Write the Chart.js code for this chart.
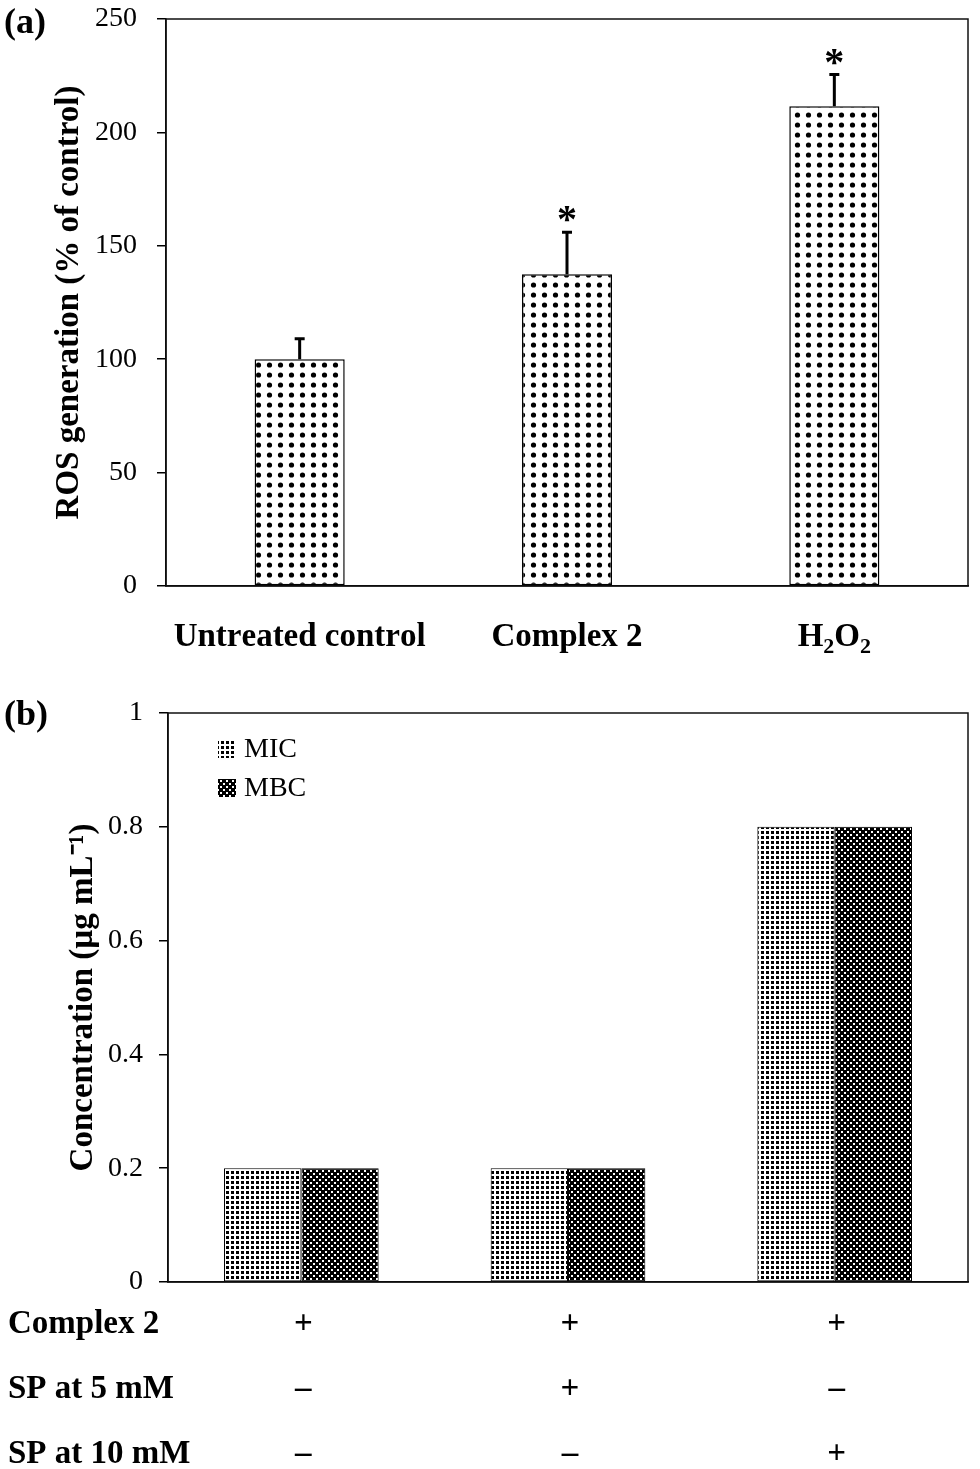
<!DOCTYPE html>
<html>
<head>
<meta charset="utf-8">
<title>ROS generation and MIC/MBC</title>
<script src="https://cdn.jsdelivr.net/npm/chart.js@4.4.1/dist/chart.umd.min.js"></script>
<style>
    body { margin: 0; background: #fff; width: 980px; height: 1469px; overflow: hidden; position: relative; }
    .panel { position: absolute; left: 0; width: 980px; }
    #panelA { top: 0; height: 680px; }
    #panelB { top: 680px; height: 789px; }
</style>
</head>
<body>
<div class="panel" id="panelA"><canvas id="rosChart"></canvas></div>
<div class="panel" id="panelB"><canvas id="concChart"></canvas></div>
<script>
// Panel (a) data
const rosLabels = ['Untreated control', 'Complex 2', 'H2O2'];
const rosValues = [100, 137.5, 211.5];
const rosErrors = [9, 18.5, 14];
const rosMarks = ['', '*', '*'];

// Panel (b) data
const concGroups = ['Complex 2', 'Complex 2 + SP 5 mM', 'Complex 2 + SP 10 mM'];
const micValues = [0.2, 0.2, 0.8];
const mbcValues = [0.2, 0.2, 0.8];
const treatmentRows = ['Complex 2', 'SP at 5 mM', 'SP at 10 mM'];
const treatmentSigns = [
    ['+', '+', '+'],
    ['\u2013', '+', '\u2013'],
    ['\u2013', '\u2013', '+']
];

const serif = "'Liberation Serif', 'Times New Roman', serif";
Chart.defaults.font.family = serif;
Chart.defaults.color = '#000';

// Fill patterns
function makePattern(w, h, paint) {
    const tile = document.createElement('canvas');
    tile.width = w;
    tile.height = h;
    paint(tile.getContext('2d'), w, h);
    return document.createElement('canvas').getContext('2d').createPattern(tile, 'repeat');
}

const dotPattern = makePattern(11, 10, (g, w, h) => {
    g.fillStyle = '#fff';
    g.fillRect(0, 0, w, h);
    g.fillStyle = '#000';
    g.beginPath();
    g.arc(5.5, 5, 2.6, 0, Math.PI * 2);
    g.fill();
});

const micPattern = makePattern(5, 5, (g, w, h) => {
    g.fillStyle = '#fff';
    g.fillRect(0, 0, w, h);
    g.fillStyle = '#000';
    g.fillRect(1, 1, 3, 3);
});

const mbcPattern = makePattern(6, 6, (g, w, h) => {
    g.fillStyle = '#000';
    g.fillRect(0, 0, w, h);
    g.fillStyle = '#fff';
    g.fillRect(1, 1, 2, 2);
    g.fillRect(4, 4, 2, 2);
});

// Draw a label, turning digits that follow a letter into subscripts (H2O2)
function drawFormula(ctx, text, cx, cy, size) {
    const parts = [];
    for (let i = 0; i < text.length; i++) {
        const ch = text[i];
        const sub = /\d/.test(ch) && i > 0 && /[A-Za-z]/.test(text[i - 1]);
        parts.push({ ch, sub });
    }
    const fontFor = p => `bold ${p.sub ? Math.round(size * 0.66) : size}px ${serif}`;
    let total = 0;
    parts.forEach(p => { ctx.font = fontFor(p); p.w = ctx.measureText(p.ch).width; total += p.w; });
    let px = cx - total / 2;
    ctx.textAlign = 'left';
    ctx.textBaseline = 'alphabetic';
    parts.forEach(p => {
        ctx.font = fontFor(p);
        ctx.fillText(p.ch, px, cy + (p.sub ? size * 0.22 : 0));
        px += p.w;
    });
}

function drawFrame(chart) {
    const { ctx, chartArea: a } = chart;
    ctx.save();
    ctx.strokeStyle = '#111';
    ctx.lineWidth = 1.5;
    ctx.strokeRect(a.left, a.top, a.right - a.left, a.bottom - a.top);
    ctx.restore();
}

const yAxisBase = {
    grid: { display: true, drawOnChartArea: false, drawTicks: true, tickLength: 9, color: '#000', lineWidth: 1.5 },
    border: { display: true, color: '#000', width: 1.5 }
};

// keep the plot box where the layout padding puts it
function fixAxisWidth(width) {
    return scale => {
        scale.width = width;
        scale.paddingTop = 0;
        scale.paddingBottom = 0;
    };
}

// Panel (a): error bars, asterisks, category labels
const rosExtras = {
    id: 'rosExtras',
    afterDatasetsDraw(chart) {
        const { ctx, scales: { y } } = chart;
        const bars = chart.getDatasetMeta(0).data;
        ctx.save();
        ctx.strokeStyle = '#000';
        ctx.fillStyle = '#000';
        ctx.lineWidth = 3;
        rosValues.forEach((v, i) => {
            const px = bars[i].x;
            const base = y.getPixelForValue(v);
            const top = y.getPixelForValue(v + rosErrors[i]);
            ctx.beginPath();
            ctx.moveTo(px, base);
            ctx.lineTo(px, top);
            ctx.moveTo(px - 5, top);
            ctx.lineTo(px + 5, top);
            ctx.stroke();
            if (rosMarks[i]) {
                ctx.font = `bold 40px ${serif}`;
                ctx.textAlign = 'center';
                ctx.textBaseline = 'alphabetic';
                ctx.fillText(rosMarks[i], px, top);
            }
        });
        ctx.restore();
    },
    afterDraw(chart) {
        drawFrame(chart);
        const { ctx } = chart;
        const bars = chart.getDatasetMeta(0).data;
        ctx.save();
        ctx.fillStyle = '#000';
        rosLabels.forEach((label, i) => drawFormula(ctx, label, bars[i].x, 646, 33));
        ctx.font = `bold 36px ${serif}`;
        ctx.textAlign = 'left';
        ctx.textBaseline = 'middle';
        ctx.fillText('(a)', 4, 24);
        ctx.restore();
    }
};

new Chart(document.getElementById('rosChart'), {
    type: 'bar',
    data: {
        labels: rosLabels,
        datasets: [{
            label: 'ROS generation',
            data: rosValues,
            backgroundColor: dotPattern,
            borderColor: '#000',
            borderWidth: 1.5,
            borderSkipped: false,
            barPercentage: 1,
            categoryPercentage: 0.337
        }]
    },
    options: {
        responsive: true,
        maintainAspectRatio: false,
        animation: false,
        devicePixelRatio: 1,
        layout: { padding: { left: 0, right: 12, top: 19, bottom: 0 } },
        plugins: { legend: { display: false }, tooltip: { enabled: false } },
        scales: {
            x: {
                grid: { display: false },
                border: { display: true, color: '#000', width: 1.5 },
                ticks: { display: false },
                afterFit(scale) { scale.height = 94; }
            },
            y: {
                ...yAxisBase,
                min: 0,
                max: 250,
                ticks: { stepSize: 50, padding: 20, color: '#000', font: { size: 28 } },
                title: {
                    display: true,
                    text: 'ROS generation (% of control)',
                    color: '#000',
                    font: { size: 33, weight: 'bold' },
                    padding: { top: 50, bottom: 0 }
                },
                afterFit: fixAxisWidth(166)
            }
        }
    },
    plugins: [rosExtras]
});

// Panel (b): legend inside plot, treatment table below
const concExtras = {
    id: 'concExtras',
    afterDraw(chart) {
        drawFrame(chart);
        const { ctx, scales: { x } } = chart;
        ctx.save();
        ctx.fillStyle = '#000';

        chart.data.datasets.forEach((ds, i) => {
            const cy = 69 + i * 39;
            ctx.fillStyle = ds.backgroundColor;
            ctx.fillRect(218, cy - 9, 18, 18);
            ctx.fillStyle = '#000';
            ctx.font = `28px ${serif}`;
            ctx.textAlign = 'left';
            ctx.textBaseline = 'middle';
            ctx.fillText(ds.label, 244, cy + 1);
        });

        ctx.font = `bold 33px ${serif}`;
        ctx.textBaseline = 'middle';
        treatmentRows.forEach((row, r) => {
            const cy = 644 + r * 65;
            ctx.textAlign = 'left';
            ctx.fillText(row, 8, cy);
            ctx.textAlign = 'center';
            treatmentSigns[r].forEach((s, c) => ctx.fillText(s, x.getPixelForValue(c) + 2, cy));
        });

        ctx.font = `bold 36px ${serif}`;
        ctx.textAlign = 'left';
        ctx.fillText('(b)', 4, 36);
        ctx.restore();
    }
};

new Chart(document.getElementById('concChart'), {
    type: 'bar',
    data: {
        labels: concGroups,
        datasets: [
            {
                label: 'MIC',
                data: micValues,
                backgroundColor: micPattern,
                borderColor: '#000',
                borderWidth: 1,
                borderSkipped: false,
                barPercentage: 1,
                categoryPercentage: 0.58
            },
            {
                label: 'MBC',
                data: mbcValues,
                backgroundColor: mbcPattern,
                borderColor: '#000',
                borderWidth: 1,
                borderSkipped: false,
                barPercentage: 1,
                categoryPercentage: 0.58
            }
        ]
    },
    options: {
        responsive: true,
        maintainAspectRatio: false,
        animation: false,
        devicePixelRatio: 1,
        layout: { padding: { left: 0, right: 12, top: 33, bottom: 0 } },
        plugins: { legend: { display: false }, tooltip: { enabled: false } },
        scales: {
            x: {
                grid: { display: false },
                border: { display: true, color: '#000', width: 1.5 },
                ticks: { display: false },
                afterFit(scale) { scale.height = 187; }
            },
            y: {
                ...yAxisBase,
                min: 0,
                max: 1,
                ticks: {
                    stepSize: 0.2,
                    padding: 16,
                    color: '#000',
                    font: { size: 28 },
                    callback: v => String(Number(v.toFixed(1)))
                },
                title: {
                    display: true,
                    text: 'Concentration (\u00b5g mL\u207b\u00b9)',
                    color: '#000',
                    font: { size: 33, weight: 'bold' },
                    padding: { top: 64, bottom: 0 }
                },
                afterFit: fixAxisWidth(168)
            }
        }
    },
    plugins: [concExtras]
});
</script>
</body>
</html>
